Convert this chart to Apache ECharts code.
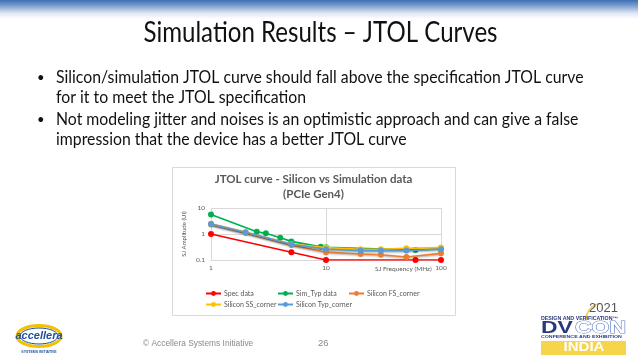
<!DOCTYPE html>
<html><head><meta charset="utf-8">
<script src="https://cdn.jsdelivr.net/npm/echarts@6/dist/echarts.min.js"></script>
<style>html,body{margin:0;padding:0;background:#fff}#c{width:638px;height:359px}</style>
</head><body><div id="c"></div>
<script>
// ---- data ----
var seriesNames = ['Spec data', 'Sim_Typ data', 'Silicon FS_corner', 'Silicon SS_corner', 'Silicon Typ_corner'];
var specFreq = [1, 5, 10, 60, 100];
var specAmp  = [1, 0.2, 0.1, 0.1, 0.1];
var simFreq  = [1, 2.5, 3, 4, 5, 9, 10, 60, 100];
var simAmp   = [5.6, 1.22, 1.06, 0.72, 0.52, 0.32, 0.31, 0.24, 0.27];
var siFreq   = [1, 2, 5, 10, 20, 30, 50, 100];
var fsAmp    = [2.3, 1.1, 0.38, 0.2, 0.17, 0.16, 0.13, 0.18];
var ssAmp    = [2.5, 1.16, 0.41, 0.3, 0.26, 0.26, 0.28, 0.3];
var typAmp   = [2.4, 1.16, 0.4, 0.26, 0.23, 0.23, 0.23, 0.26];
var xTicks = [1, 10, 100];
var yTicks = [0.1, 1, 10];
var colors = ['#ff0000', '#00b050', '#ed7d31', '#ffc000', '#5b9bd5'];

function pairs(xs, ys) { return xs.map(function (x, i) { return [x, ys[i]]; }); }
var seriesData = [pairs(specFreq, specAmp), pairs(simFreq, simAmp), pairs(siFreq, fsAmp), pairs(siFreq, ssAmp), pairs(siFreq, typAmp)];

var chart = echarts.init(document.getElementById('c'), null, {renderer: 'canvas'});
var chartFont = 'Lato, "Open Sans", sans-serif';
var slideFont = 'Lato, "Open Sans", sans-serif';
var arial = '"Liberation Sans", Arial, sans-serif';

var series = seriesNames.map(function (n, i) {
  var shadow = i >= 2;
  return {
    name: n, type: 'line', data: seriesData[i], symbol: 'circle', symbolSize: 6,
    color: colors[i],
    lineStyle: {width: 1.6, color: colors[i], shadowColor: shadow ? 'rgba(0,0,0,0.35)' : 'transparent', shadowBlur: shadow ? 2 : 0, shadowOffsetY: shadow ? 1 : 0},
    itemStyle: {color: colors[i]},
    animation: false, z: 2 + i
  };
});

var legendPos = [[205, 290], [277, 290], [348, 290], [205, 301], [277, 301]];
var legends = seriesNames.map(function (n, i) {
  return {
    data: [n], left: legendPos[i][0], top: legendPos[i][1], itemWidth: 15, itemHeight: 6, itemGap: 4,
    padding: 0, textStyle: {fontSize: 7, color: '#595959', fontFamily: chartFont, padding: [0, 0, 0, -2]},
    selectedMode: false
  };
});

var option = {
  backgroundColor: '#ffffff',
  animation: false,
  grid: {left: 211, right: 197, top: 208, bottom: 99, containLabel: false},
  xAxis: {
    type: 'log', logBase: 10, min: 1, max: 100,
    axisLine: {show: true, lineStyle: {color: '#d9d9d9'}},
    axisTick: {show: false},
    splitLine: {show: true, lineStyle: {color: '#d9d9d9', width: 1}},
    axisLabel: {fontSize: 6.5, color: '#595959', fontFamily: chartFont, margin: 4,
      formatter: function (v) { return xTicks.indexOf(Math.round(v)) >= 0 ? String(Math.round(v)) : ''; }}
  },
  yAxis: {
    type: 'log', logBase: 10, min: 0.1, max: 10,
    axisLine: {show: true, onZero: false, lineStyle: {color: '#d9d9d9'}},
    axisTick: {show: false},
    splitLine: {show: true, lineStyle: {color: '#d9d9d9', width: 1}},
    axisLabel: {fontSize: 6.5, color: '#595959', fontFamily: chartFont, margin: 6,
      formatter: function (v) { var r = Math.round(v * 10) / 10; return yTicks.indexOf(r) >= 0 ? String(r) : ''; }},
    name: 'SJ Amplitude (UI)', nameLocation: 'middle', nameGap: 24, nameRotate: 90,
    nameTextStyle: {fontSize: 6, color: '#595959', fontFamily: chartFont}
  },
  legend: legends,
  series: series,
  graphic: [
    // top gradient band
    {type: 'rect', z: -10, shape: {x: 0, y: 0, width: 638, height: 19},
      style: {fill: new echarts.graphic.LinearGradient(0, 0, 0, 1, [
        {offset: 0, color: '#3e6fb2'}, {offset: 0.3, color: '#7b9fd0'}, {offset: 0.7, color: '#dfe8f4'}, {offset: 1, color: '#ffffff'}])}},
    // slide title
    {type: 'text', x: 320.5, y: 18, scaleX: 0.83, style: {text: 'Simulation Results – JTOL Curves', font: '29px ' + slideFont, fill: '#111', align: 'center'}},
    // bullets
    {type: 'text', x: 37, y: 71, style: {text: '•', font: '13px ' + slideFont, fill: '#111'}},
    {type: 'text', x: 56, y: 68, scaleX: 0.93, style: {text: 'Silicon/simulation JTOL curve should fall above the specification JTOL curve\nfor it to meet the JTOL specification', font: '17px ' + slideFont, fill: '#111', lineHeight: 19.5}},
    {type: 'text', x: 37, y: 113, style: {text: '•', font: '13px ' + slideFont, fill: '#111'}},
    {type: 'text', x: 56, y: 110, scaleX: 0.93, style: {text: 'Not modeling jitter and noises is an optimistic approach and can give a false\nimpression that the device has a better JTOL curve', font: '17px ' + slideFont, fill: '#111', lineHeight: 19.5}},
    // chart box
    {type: 'rect', z: -5, shape: {x: 172.5, y: 167.5, width: 283, height: 148}, style: {fill: '#fff', stroke: '#d9d9d9', lineWidth: 1}},
    // chart title
    {type: 'text', x: 313.5, y: 172, style: {text: 'JTOL curve - Silicon vs Simulation data\n(PCIe Gen4)', font: 'bold 11.5px ' + chartFont, fill: '#595959', align: 'center', lineHeight: 15}},
    // x axis name
    {type: 'text', x: 375, y: 265, style: {text: 'SJ Frequency (MHz)', font: '6.5px ' + chartFont, fill: '#595959'}},
    // footer
    {type: 'text', x: 143, y: 338, scaleX: 0.88, style: {text: '© Accellera Systems Initiative', font: '9.5px ' + arial, fill: '#8a8a8a'}},
    {type: 'text', x: 318, y: 338, style: {text: '26', font: '9.5px ' + arial, fill: '#8a8a8a'}},
    // accellera logo
    {type: 'ellipse', shape: {cx: 39, cy: 336, rx: 22, ry: 10.5}, style: {fill: '#fff', stroke: '#f2c200', lineWidth: 3}},
    {type: 'ellipse', shape: {cx: 39, cy: 336, rx: 19, ry: 8}, style: {fill: 'none', stroke: '#1f4f9d', lineWidth: 1}},
    {type: 'text', x: 39, y: 330, style: {text: 'accellera', font: 'italic bold 11px ' + arial, fill: '#1f4f9d', align: 'center'}},
    {type: 'text', x: 39, y: 350, style: {text: 'SYSTEMS INITIATIVE', font: 'bold 3.5px ' + arial, fill: '#1f4f9d', align: 'center'}},
    // DVCON logo
    {type: 'arc', shape: {cx: 603, cy: 320, r: 17, startAngle: Math.PI * 1.0, endAngle: Math.PI * 1.45}, style: {stroke: '#f2c94c', lineWidth: 1.5, fill: 'none'}},
    {type: 'text', x: 589, y: 302, style: {text: '2021', font: '13px ' + arial, fill: '#555'}},
    {type: 'text', x: 541, y: 316, scaleX: 1.15, style: {text: 'DESIGN AND VERIFICATION™', font: 'bold 4.6px ' + arial, fill: '#2b3a7a'}},
    {type: 'text', x: 541, y: 320, scaleX: 1.35, style: {text: 'DV', font: 'bold 17px ' + arial, fill: '#2b3a7a'}},
    {type: 'text', x: 575, y: 320, scaleX: 1.35, style: {text: 'CON', font: 'bold 17px ' + arial, fill: '#ffffff', stroke: '#5b7fc4', lineWidth: 1}},
    {type: 'text', x: 541, y: 335, scaleX: 1.25, style: {text: 'CONFERENCE AND EXHIBITION', font: 'bold 4.2px ' + arial, fill: '#2b3a7a'}},
    {type: 'rect', shape: {x: 541, y: 341, width: 85, height: 14}, style: {fill: '#f6d54a'}},
    {type: 'text', x: 584, y: 342, scaleX: 1.25, style: {text: 'INDIA', font: 'bold 12px ' + arial, fill: '#ffffff', align: 'center'}}
  ]
};
chart.setOption(option);
</script>
</body></html>
